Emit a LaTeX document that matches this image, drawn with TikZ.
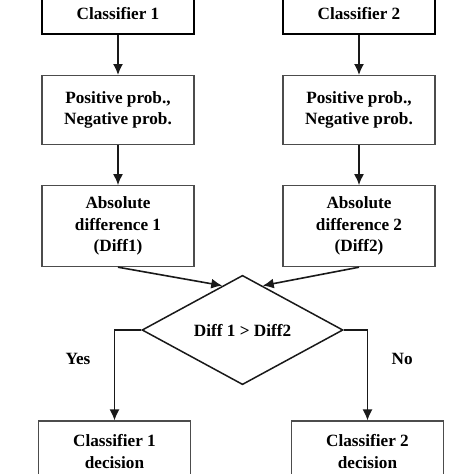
\documentclass[tikz,border=0pt]{standalone}
\usepackage{fontspec}
\setmainfont{Liberation Serif}
\usetikzlibrary{shapes.geometric,arrows.meta,positioning,calc}

\begin{document}
\begin{tikzpicture}[
    x=1pt, y=1pt,
    font=\fontsize{17.2}{21.7}\selectfont\bfseries,
    box/.style={rectangle, draw=black!70, line width=1.1pt, minimum width=152pt, align=center, inner sep=4pt},
    topbox/.style={box, draw=black, line width=2pt, minimum height=40pt},
    decision/.style={diamond, draw=black!90, line width=1.5pt, minimum width=201pt, minimum height=87pt, inner sep=0pt, align=center},
    arrow/.style={-{Latex[length=11pt,width=10pt]}, line width=1.6pt, draw=black!90},
    answer/.style={font=\fontsize{17.2}{21.7}\selectfont\bfseries}
]
    \useasboundingbox (0,0) rectangle (474,-474);

    % Left column
    \node[topbox] (cls1) at (118,-14) {Classifier 1};
    \node[box, minimum height=69pt, below=40pt of cls1] (prob1) {Positive prob.,\\Negative prob.};
    \node[box, minimum height=81pt, below=40pt of prob1] (diff1) {Absolute\\difference 1\\(Diff1)};

    % Right column
    \node[topbox] (cls2) at (359,-14) {Classifier 2};
    \node[box, minimum height=69pt, below=40pt of cls2] (prob2) {Positive prob.,\\Negative prob.};
    \node[box, minimum height=81pt, below=40pt of prob2] (diff2) {Absolute\\difference 2\\(Diff2)};

    % Comparison and decisions
    \node[decision] (cmp) at (242.5,-330) {Diff 1 > Diff2};
    \node[box, minimum height=61pt] (dec1) at (114.5,-451.5) {Classifier 1\\decision};
    \node[box, minimum height=61pt] (dec2) at (367.5,-451.5) {Classifier 2\\decision};

    % Arrows
    \draw[arrow] (cls1) -- (prob1);
    \draw[arrow] (prob1) -- (diff1);
    \draw[arrow] (cls2) -- (prob2);
    \draw[arrow] (prob2) -- (diff2);
    \draw[arrow] (diff1.south) -- ($(cmp.north)!0.2!(cmp.west)$);
    \draw[arrow] (diff2.south) -- ($(cmp.north)!0.2!(cmp.east)$);
    \draw[arrow] (cmp.west) -| node[answer, pos=0.66, left=20pt] {Yes} (dec1.north);
    \draw[arrow] (cmp.east) -| node[answer, pos=0.66, right=20pt] {No} (dec2.north);
\end{tikzpicture}
\end{document}
